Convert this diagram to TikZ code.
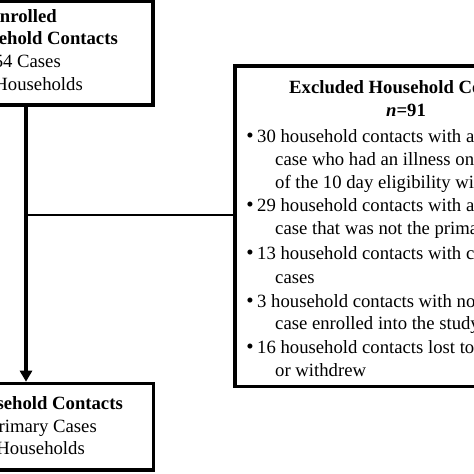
\documentclass[tikz,border=0pt]{standalone}
\usepackage{fontspec}
\setmainfont{Liberation Serif}
\usetikzlibrary{arrows.meta}
\begin{document}
\begin{tikzpicture}[x=1pt,y=-1pt,
  box/.style={draw,line width=3.6pt,rectangle,inner sep=0pt},
  txt/.style={font=\fontsize{18.7}{22}\selectfont,inner sep=0pt},
  btxt/.style={font=\fontsize{18.7}{22}\selectfont\bfseries,inner sep=0pt},
  bul/.style={font=\fontsize{21}{22}\selectfont,inner sep=0pt},
  link/.style={line width=4pt},
  branch/.style={line width=2pt}]
\useasboundingbox (0,0) rectangle (474,474);
\clip (0,0) rectangle (474,474);
% boxes
\node[box,minimum width=221pt,minimum height=103.5pt] (enr) at (42.5,53.25) {};
\node[box,minimum width=340pt,minimum height=320.5pt] (exc) at (405,226.25) {};
\node[box,minimum width=221.5pt,minimum height=86.5pt] (fin) at (42.75,426.75) {};
% connectors
\coordinate (col) at (26,0);
\coordinate (br) at (26,215);
\draw[link,-{Triangle[width=12pt,length=11pt]}] (enr.south -| col) -- (fin.north -| col);
\draw[branch] (br) -- (br -| exc.west);
% top box text
\node[btxt,anchor=base east] (t1) at (57,22) {nrolled};
\node[btxt,anchor=base east] (t2) at (118,44.5) {ehold Contacts};
\node[txt,anchor=base east] (t3) at (61,67) {54 Cases};
\node[txt,anchor=base east] (t4) at (83,90) {Households};
% bottom box text
\node[btxt,anchor=base east] (b1) at (123,409) {sehold Contacts};
\node[txt,anchor=base east] (b2) at (97,432) {rimary Cases};
\node[txt,anchor=base east] (b3) at (85,454) {Households};
% right box text
\node[btxt,anchor=base west] (r0) at (289,93) {Excluded Household Co};
\node[btxt,anchor=base] (rn) at (406,116) {\itshape n\upshape=91};
\foreach \y in {142,211,259,307,353}
  \node[bul,anchor=base] at (250,\y) {\textbullet};
\node[txt,anchor=base west] (l1) at (257,142) {30 household contacts with a};
\node[txt,anchor=base west] (l2) at (275,165) {case who had an illness on};
\node[txt,anchor=base west] (l3) at (275,188) {of the 10 day eligibility wi};
\node[txt,anchor=base west] (l4) at (257,211) {29 household contacts with a};
\node[txt,anchor=base west] (l5) at (275,234) {case that was not the prima};
\node[txt,anchor=base west] (l6) at (257,259) {13 household contacts with c};
\node[txt,anchor=base west] (l7) at (275,283) {cases};
\node[txt,anchor=base west] (l8) at (257,307) {3 household contacts with no};
\node[txt,anchor=base west] (l9) at (275,329) {case enrolled into the study};
\node[txt,anchor=base west] (l10) at (257,353) {16 household contacts lost to};
\node[txt,anchor=base west] (l11) at (275,376) {or withdrew};
\end{tikzpicture}
\end{document}
